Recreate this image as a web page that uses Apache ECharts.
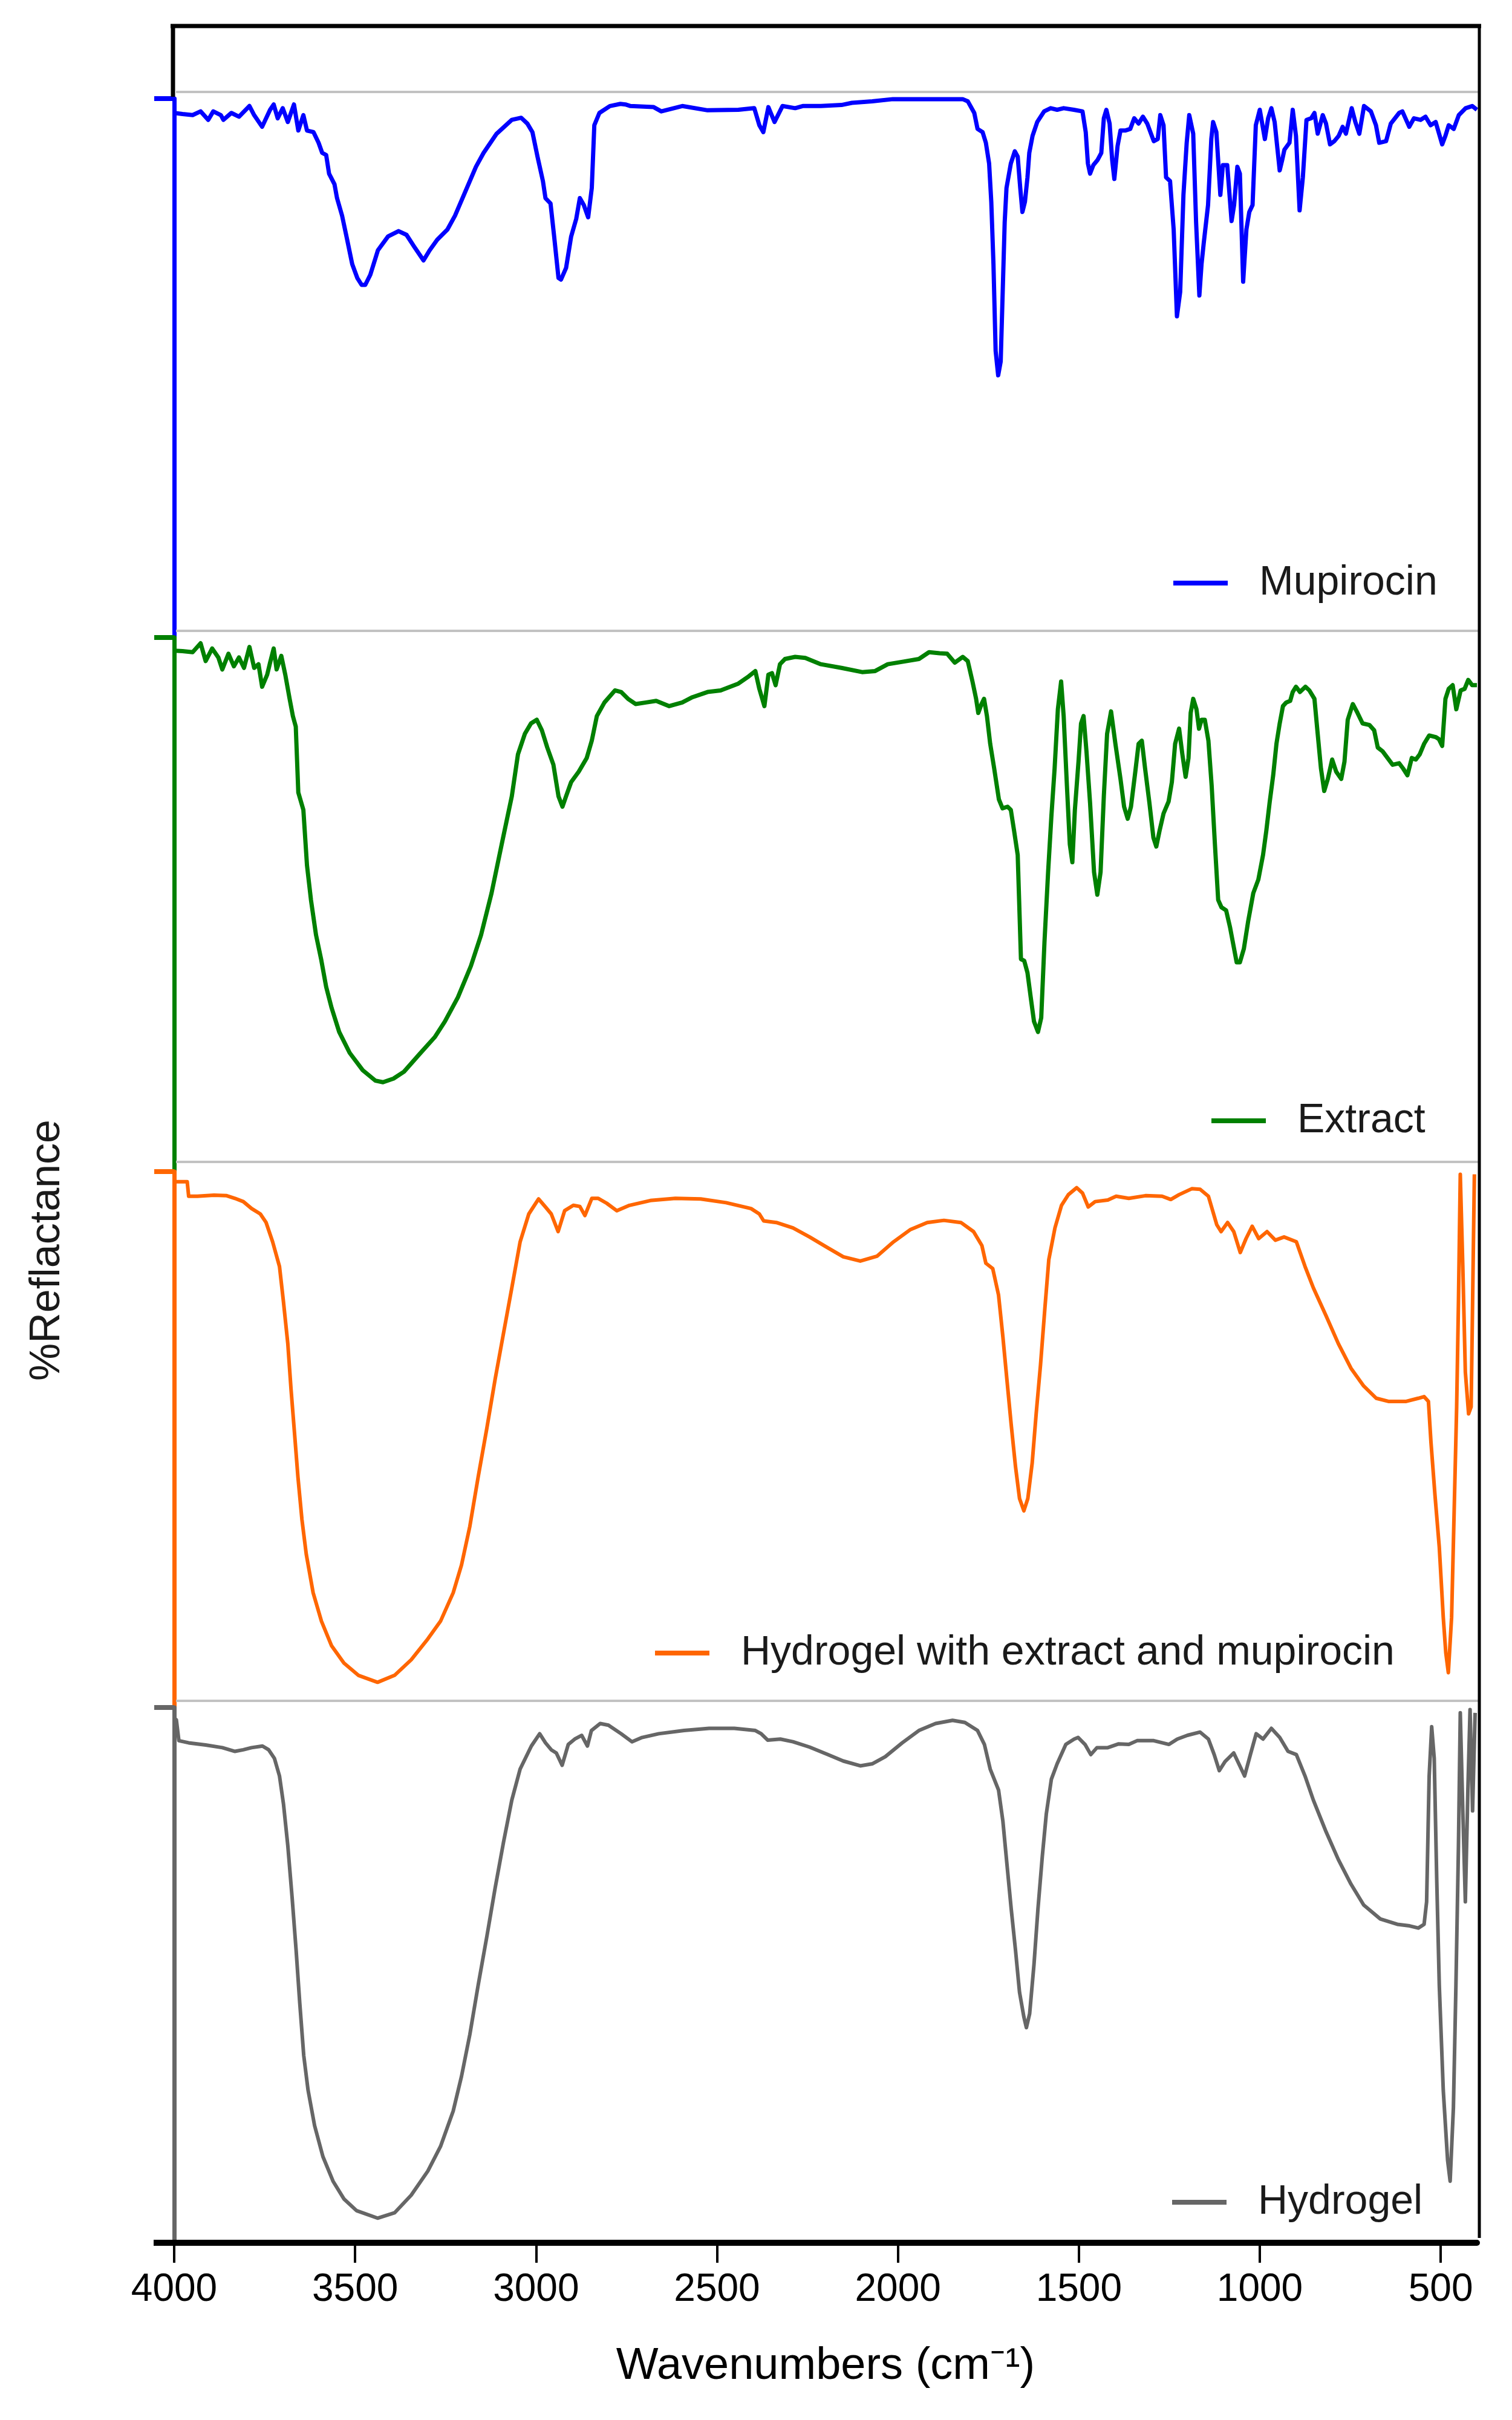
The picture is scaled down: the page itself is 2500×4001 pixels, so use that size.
<!DOCTYPE html>
<html>
<head>
<meta charset="utf-8">
<script src="https://cdn.jsdelivr.net/npm/echarts@6/dist/echarts.min.js"></script>
<style>html,body{margin:0;padding:0;background:#fff;}#c{width:2500px;height:4001px;}</style>
</head>
<body>
<div id="c"></div>
<script>
const FONT = "'Liberation Sans', Arial, Helvetica, sans-serif";
const seriesNames = ['Mupirocin', 'Extract', 'Hydrogel with extract and mupirocin', 'Hydrogel'];
const seriesColors = ['#0000ff', '#008000', '#ff6600', '#666666'];
const xTicks = [4000, 3500, 3000, 2500, 2000, 1500, 1000, 500];

const mupirocin = [[4000,97.3],[3977,97.1],[3949,96.9],[3927,97.6],[3906,96.0],[3892,97.6],[3871,96.9],[3864,96.0],[3842,97.3],[3821,96.6],[3792,98.6],[3779,96.9],[3757,94.7],[3735,97.9],[3725,98.9],[3714,96.3],[3700,98.2],[3686,95.6],[3669,98.9],[3657,94.0],[3643,96.9],[3633,94.0],[3615,93.7],[3601,91.7],[3591,89.8],[3580,89.4],[3572,85.9],[3557,83.9],[3550,81.3],[3536,78.0],[3522,73.5],[3508,68.9],[3494,66.3],[3482,65.0],[3472,65.0],[3458,66.9],[3437,71.5],[3409,74.1],[3380,75.1],[3358,74.4],[3337,72.2],[3311,69.6],[3294,71.5],[3273,73.5],[3245,75.4],[3224,78.0],[3195,82.6],[3166,87.2],[3145,89.8],[3109,93.4],[3067,96.0],[3041,96.4],[3024,95.3],[3010,93.7],[2996,89.1],[2981,84.5],[2974,81.3],[2960,80.3],[2950,74.1],[2938,66.3],[2931,66.0],[2917,68.2],[2903,74.1],[2889,77.4],[2879,81.3],[2868,80.0],[2856,77.7],[2846,83.2],[2839,95.0],[2825,97.3],[2796,98.6],[2767,99.0],[2753,98.9],[2739,98.6],[2675,98.4],[2654,97.6],[2596,98.6],[2526,97.8],[2441,97.9],[2397,98.2],[2383,95.0],[2372,93.7],[2358,98.4],[2341,95.6],[2319,98.6],[2284,98.2],[2263,98.6],[2213,98.6],[2156,98.8],[2127,99.2],[2071,99.5],[2014,99.9],[1871,99.9],[1821,99.9],[1807,99.5],[1789,97.3],[1780,94.3],[1766,93.7],[1757,91.7],[1748,87.8],[1742,80.6],[1736,68.9],[1730,52.6],[1723,48.0],[1716,50.6],[1711,62.4],[1705,76.7],[1700,83.2],[1688,87.8],[1677,90.1],[1669,89.1],[1662,83.2],[1656,78.7],[1649,80.6],[1642,85.2],[1637,89.8],[1628,93.0],[1615,95.6],[1596,97.6],[1578,98.2],[1560,97.9],[1542,98.2],[1514,97.9],[1490,97.6],[1481,93.7],[1475,87.8],[1469,85.9],[1460,87.5],[1448,88.5],[1438,89.8],[1431,96.3],[1424,97.9],[1415,95.3],[1408,88.5],[1402,84.9],[1393,91.1],[1385,94.0],[1372,94.0],[1358,94.3],[1347,96.3],[1335,95.3],[1323,96.6],[1311,95.3],[1293,92.0],[1282,92.4],[1275,96.9],[1266,95.0],[1259,85.2],[1248,84.5],[1238,75.4],[1229,59.1],[1220,63.7],[1211,81.9],[1202,91.7],[1195,96.9],[1184,93.4],[1176,76.7],[1167,63.0],[1161,68.9],[1155,72.8],[1143,80.0],[1134,92.4],[1129,95.6],[1120,93.7],[1109,81.9],[1102,87.5],[1090,87.5],[1078,77.0],[1071,80.0],[1062,87.2],[1055,85.9],[1046,65.6],[1037,75.4],[1029,78.7],[1020,80.0],[1011,95.0],[1000,97.9],[986,92.4],[977,96.3],[968,98.2],[959,95.6],[945,86.5],[938,88.5],[932,90.4],[918,91.7],[909,97.9],[900,93.0],[890,79.0],[881,85.2],[871,96.0],[858,96.3],[849,97.3],[840,93.4],[826,96.9],[817,95.3],[806,91.4],[794,92.0],[782,93.0],[771,94.7],[762,93.4],[746,98.2],[736,95.6],[725,93.4],[712,98.6],[693,97.6],[679,95.0],[670,91.7],[651,92.0],[638,95.3],[615,97.3],[606,97.6],[587,94.7],[574,96.3],[556,96.0],[542,96.6],[528,95.0],[514,95.6],[496,91.4],[487,93.0],[478,95.0],[464,94.3],[450,96.9],[431,98.2],[413,98.6],[400,97.9]];

const extract = [[4000,97.5],[3977,97.4],[3949,97.2],[3927,98.9],[3913,95.5],[3895,97.9],[3878,96.2],[3867,93.9],[3850,96.9],[3835,94.5],[3821,96.2],[3807,94.2],[3792,98.2],[3779,94.2],[3767,94.9],[3757,90.6],[3743,92.9],[3735,95.2],[3725,97.9],[3717,93.9],[3704,96.5],[3693,92.9],[3681,88.3],[3672,85.0],[3664,83.0],[3657,70.4],[3643,67.1],[3633,56.5],[3622,49.9],[3608,43.2],[3594,38.6],[3580,33.3],[3565,29.3],[3544,24.7],[3515,20.7],[3479,17.4],[3444,15.4],[3423,15.1],[3394,15.8],[3365,17.1],[3323,20.4],[3280,23.7],[3252,26.7],[3216,31.3],[3180,37.3],[3152,43.2],[3123,51.2],[3095,60.5],[3067,69.7],[3050,77.7],[3031,81.6],[3014,83.6],[2998,84.3],[2984,82.3],[2969,79.0],[2952,75.7],[2938,69.7],[2927,67.7],[2917,69.7],[2903,72.4],[2882,74.4],[2860,77.0],[2846,80.3],[2832,85.0],[2811,87.6],[2782,89.9],[2765,89.6],[2746,88.3],[2725,87.3],[2696,87.6],[2668,87.9],[2632,86.9],[2596,87.6],[2568,88.6],[2526,89.6],[2490,89.9],[2441,91.2],[2412,92.6],[2394,93.6],[2383,90.2],[2369,86.9],[2358,92.9],[2348,93.2],[2338,90.9],[2326,94.9],[2312,95.9],[2284,96.3],[2256,96.1],[2213,94.9],[2156,94.2],[2099,93.4],[2063,93.6],[2028,94.9],[1985,95.4],[1942,95.9],[1914,97.2],[1885,97.0],[1864,96.9],[1843,95.2],[1821,96.3],[1807,95.5],[1794,91.6],[1784,88.3],[1778,85.6],[1769,87.3],[1762,88.3],[1754,85.0],[1745,79.7],[1734,75.0],[1721,69.1],[1711,67.4],[1697,67.7],[1688,67.1],[1679,63.1],[1669,58.5],[1660,38.6],[1651,38.3],[1642,36.0],[1633,31.3],[1624,26.7],[1613,24.7],[1604,27.4],[1595,41.9],[1585,55.2],[1576,65.8],[1567,75.0],[1558,86.3],[1549,91.6],[1542,85.0],[1533,71.7],[1525,60.5],[1518,57.1],[1511,67.1],[1501,76.3],[1494,83.6],[1487,85.0],[1479,78.3],[1469,68.4],[1458,55.2],[1449,50.9],[1440,55.2],[1431,69.7],[1422,81.6],[1411,85.9],[1399,79.7],[1385,73.0],[1375,67.7],[1365,65.4],[1356,67.7],[1344,74.4],[1335,79.7],[1326,80.3],[1317,75.0],[1305,68.4],[1294,61.8],[1286,60.1],[1277,63.1],[1266,66.4],[1252,68.7],[1243,72.4],[1234,79.7],[1223,82.6],[1214,77.7],[1205,73.4],[1197,77.0],[1191,85.6],[1184,88.3],[1175,86.3],[1168,82.6],[1161,84.3],[1152,84.3],[1142,80.3],[1133,71.7],[1124,60.5],[1115,49.9],[1106,48.5],[1093,47.9],[1082,44.6],[1073,41.3],[1064,38.0],[1055,38.0],[1044,40.6],[1032,45.9],[1018,51.2],[1004,53.8],[991,58.5],[982,63.1],[973,68.4],[963,73.7],[954,79.7],[945,83.6],[936,86.9],[927,87.6],[916,87.9],[909,89.6],[900,90.6],[889,89.6],[874,90.6],[863,89.9],[849,88.3],[840,81.6],[831,75.0],[822,70.7],[812,73.0],[800,76.7],[789,74.4],[775,73.0],[766,76.3],[757,84.3],[743,87.3],[730,85.6],[716,83.6],[697,83.3],[684,82.3],[674,79.0],[661,78.3],[647,77.0],[633,75.7],[615,76.0],[604,75.0],[592,73.7],[580,77.0],[569,76.7],[558,77.7],[546,79.7],[532,81.3],[514,81.0],[505,80.6],[496,79.3],[487,88.3],[478,90.2],[467,90.9],[457,86.3],[445,89.9],[434,90.2],[424,91.9],[413,90.9],[400,90.9]];

const hydrogelExtMup = [[4000,98.1],[3964,98.1],[3960,95.4],[3936,95.4],[3890,95.6],[3855,95.5],[3832,95.0],[3809,94.4],[3786,93.1],[3762,92.1],[3746,90.5],[3728,86.9],[3709,82.3],[3698,75.7],[3686,67.9],[3677,59.3],[3667,50.8],[3658,43.0],[3647,35.1],[3635,28.6],[3616,21.4],[3593,16.1],[3565,11.5],[3531,8.3],[3491,6.0],[3438,4.7],[3391,6.0],[3345,8.9],[3299,12.8],[3264,16.1],[3229,21.4],[3206,26.6],[3183,33.8],[3160,43.0],[3136,52.1],[3113,61.3],[3090,69.8],[3067,78.3],[3044,86.9],[3020,92.1],[2993,94.9],[2974,93.4],[2958,92.1],[2939,88.8],[2921,92.7],[2897,93.7],[2879,93.5],[2865,91.8],[2846,95.0],[2828,95.0],[2805,94.1],[2777,92.7],[2742,93.7],[2684,94.6],[2615,95.0],[2545,94.9],[2475,94.2],[2406,93.1],[2383,92.1],[2371,90.8],[2336,90.5],[2290,89.5],[2244,87.8],[2197,85.9],[2151,84.1],[2104,83.3],[2058,84.2],[2012,86.9],[1965,89.2],[1919,90.5],[1873,90.9],[1826,90.5],[1791,88.8],[1768,86.2],[1757,82.9],[1738,81.9],[1722,77.0],[1710,69.2],[1699,61.3],[1687,52.8],[1675,44.9],[1664,39.0],[1652,36.7],[1641,39.0],[1629,45.6],[1618,54.8],[1606,63.9],[1594,74.4],[1583,83.6],[1566,89.5],[1548,93.7],[1529,95.7],[1506,97.0],[1490,96.0],[1474,93.4],[1455,94.4],[1420,94.7],[1397,95.4],[1362,95.0],[1316,95.5],[1270,95.4],[1246,94.8],[1223,95.7],[1188,96.8],[1165,96.7],[1142,95.4],[1119,90.1],[1107,88.8],[1089,90.5],[1072,88.8],[1054,84.9],[1038,87.5],[1021,89.8],[1003,87.5],[980,88.8],[957,87.2],[933,87.8],[899,86.9],[875,82.3],[852,78.3],[817,73.1],[783,67.9],[748,63.3],[713,60.0],[678,57.7],[643,57.1],[597,57.1],[562,57.7],[546,58.0],[534,57.1],[527,49.5],[516,39.7],[504,29.9],[493,16.8],[486,10.2],[479,6.5],[470,16.8],[463,36.4],[456,56.1],[451,75.7],[446,99.5],[439,82.3],[432,62.6],[423,54.8],[416,56.1],[407,99.5]];

const hydrogel = [[4000,98.0],[3994,97.7],[3987,93.8],[3960,93.4],[3913,93.0],[3867,92.5],[3832,91.8],[3809,92.1],[3786,92.5],[3756,92.8],[3739,92.1],[3723,90.5],[3709,87.2],[3698,82.0],[3686,74.2],[3674,64.4],[3663,54.6],[3653,44.8],[3642,35.0],[3630,28.5],[3612,21.9],[3589,16.1],[3561,11.5],[3531,8.2],[3496,6.0],[3438,4.6],[3391,5.6],[3345,8.9],[3299,13.4],[3264,18.0],[3229,24.6],[3206,31.1],[3183,38.9],[3160,48.1],[3136,57.2],[3113,66.3],[3090,74.8],[3067,82.7],[3044,88.5],[3013,92.8],[2990,95.1],[2974,93.4],[2958,92.1],[2944,91.5],[2928,89.2],[2911,93.1],[2893,94.1],[2874,94.8],[2858,92.8],[2847,95.7],[2823,97.0],[2800,96.7],[2765,95.1],[2735,93.6],[2707,94.4],[2661,95.1],[2591,95.7],[2522,96.1],[2452,96.1],[2394,95.7],[2378,95.1],[2360,93.9],[2325,94.1],[2290,93.6],[2244,92.6],[2197,91.3],[2151,90.0],[2104,89.1],[2070,89.5],[2035,90.8],[1988,93.4],[1942,95.7],[1896,97.0],[1849,97.6],[1815,97.2],[1780,95.7],[1761,93.1],[1745,88.5],[1722,84.6],[1710,78.8],[1699,70.9],[1687,62.4],[1675,54.6],[1664,46.8],[1652,42.2],[1645,40.2],[1636,42.8],[1624,52.0],[1613,62.4],[1601,72.2],[1590,80.1],[1576,86.6],[1560,89.5],[1536,93.1],[1513,94.1],[1502,94.4],[1483,93.1],[1467,91.2],[1450,92.5],[1420,92.5],[1390,93.2],[1362,93.1],[1339,93.8],[1293,93.8],[1251,93.1],[1228,94.1],[1200,94.8],[1165,95.4],[1142,94.1],[1126,91.2],[1112,88.2],[1096,89.9],[1072,91.5],[1056,89.2],[1042,87.2],[1026,91.2],[1010,95.1],[991,94.1],[968,96.1],[945,94.4],[922,91.8],[899,91.2],[875,87.2],[852,82.7],[817,76.8],[783,71.6],[748,67.0],[713,63.1],[667,60.5],[620,59.5],[586,59.2],[562,58.8],[546,59.5],[539,63.7],[532,87.2],[525,96.4],[518,90.5],[511,67.7],[504,48.1],[493,28.5],[481,15.4],[474,11.5],[465,25.2],[458,48.1],[451,74.2],[446,99.0],[439,80.7],[432,63.7],[425,84.6],[419,99.6],[412,80.7],[405,99.0]];

const spectra = [mupirocin, extract, hydrogelExtMup, hydrogel];

// layout (pixels)
const GRID_LEFT = 288, GRID_W = 2154;
const panels = [
  {top: 163, height: 891, ymin: -1.25, lw: 7, legendLeft: 1940, legendTop: 930},
  {top: 1054, height: 883, ymin: -1.96, lw: 7, legendLeft: 2003, legendTop: 1819},
  {top: 1937, height: 886, ymin: 0, lw: 6, legendLeft: 1083, legendTop: 2699},
  {top: 2823, height: 885, ymin: 0, lw: 6, legendLeft: 1938, legendTop: 3607}
];

const grids = panels.map(p => ({left: GRID_LEFT, top: p.top, width: GRID_W, height: p.height, containLabel: false}));

const xAxes = panels.map((p, i) => {
  const base = {gridIndex: i, type: 'value', min: 400, max: 4000, inverse: true, splitLine: {show: false}};
  if (i < 3) return Object.assign(base, {show: false});
  return Object.assign(base, {
    position: 'bottom',
    axisLine: {show: true, onZero: false, lineStyle: {color: '#000', width: 10}},
    axisTick: {show: true, inside: false, length: 33, lineStyle: {color: '#000', width: 4}, customValues: xTicks},
    axisLabel: {show: true, customValues: xTicks, fontSize: 64, margin: 46, color: '#000', fontFamily: FONT,
      formatter: v => String(v)},
    name: 'Wavenumbers (cm\u207B\u00B9)',
    nameLocation: 'middle',
    nameGap: 168,
    nameTextStyle: {fontSize: 74, color: '#000', fontFamily: FONT}
  });
});

const yAxes = panels.map((p, i) => ({
  gridIndex: i, type: 'value', min: p.ymin, max: 100, interval: 100 - p.ymin,
  axisLine: {show: true, onZero: false, lineStyle: {color: seriesColors[i], width: 7}},
  axisTick: {show: true, inside: false, length: 33, lineStyle: {color: seriesColors[i], width: 8}, customValues: [100]},
  axisLabel: {show: false},
  splitLine: {show: false}
}));

const series = spectra.map((d, i) => ({
  name: seriesNames[i], type: 'line', xAxisIndex: i, yAxisIndex: i,
  data: d, showSymbol: false, symbol: 'none',
  lineStyle: {color: seriesColors[i], width: panels[i].lw, join: 'round'},
  itemStyle: {color: seriesColors[i]},
  z: 3
}));

const legends = panels.map((p, i) => ({
  data: [seriesNames[i]], left: p.legendLeft, top: p.legendTop, orient: 'horizontal',
  icon: 'rect', itemWidth: 90, itemHeight: 8, padding: 0,
  textStyle: {fontSize: 68, color: '#1a1a1a', fontFamily: FONT, padding: [0, 0, 0, 47]}
}));

const sepY = [152, 1043, 1921, 2812];
const graphics = [];
sepY.forEach(y => graphics.push({type: 'line', z: 1, shape: {x1: 291, y1: y, x2: 2444, y2: y}, style: {stroke: '#c2c2c2', lineWidth: 4}}));
graphics.push({type: 'line', z: 10, shape: {x1: 282, y1: 43, x2: 2449, y2: 43}, style: {stroke: '#000', lineWidth: 7}});
graphics.push({type: 'line', z: 10, shape: {x1: 286, y1: 40, x2: 286, y2: 160}, style: {stroke: '#000', lineWidth: 7}});
graphics.push({type: 'line', z: 10, shape: {x1: 2446, y1: 40, x2: 2446, y2: 3700}, style: {stroke: '#000', lineWidth: 5}});
graphics.push({type: 'line', z: 10, shape: {x1: 254, y1: 3708, x2: 292, y2: 3708}, style: {stroke: '#000', lineWidth: 10}});
graphics.push({type: 'text', z: 10, x: 79, y: 2067, rotation: Math.PI / 2,
  style: {text: '%Reflactance', fontSize: 70, fontFamily: FONT, fill: '#1a1a1a', align: 'center', verticalAlign: 'middle'}});

const chart = echarts.init(document.getElementById('c'), null, {renderer: 'canvas', width: 2500, height: 4001});
chart.setOption({
  animation: false,
  backgroundColor: '#ffffff',
  grid: grids,
  xAxis: xAxes,
  yAxis: yAxes,
  legend: legends,
  series: series,
  graphic: graphics
});
</script>
</body>
</html>
